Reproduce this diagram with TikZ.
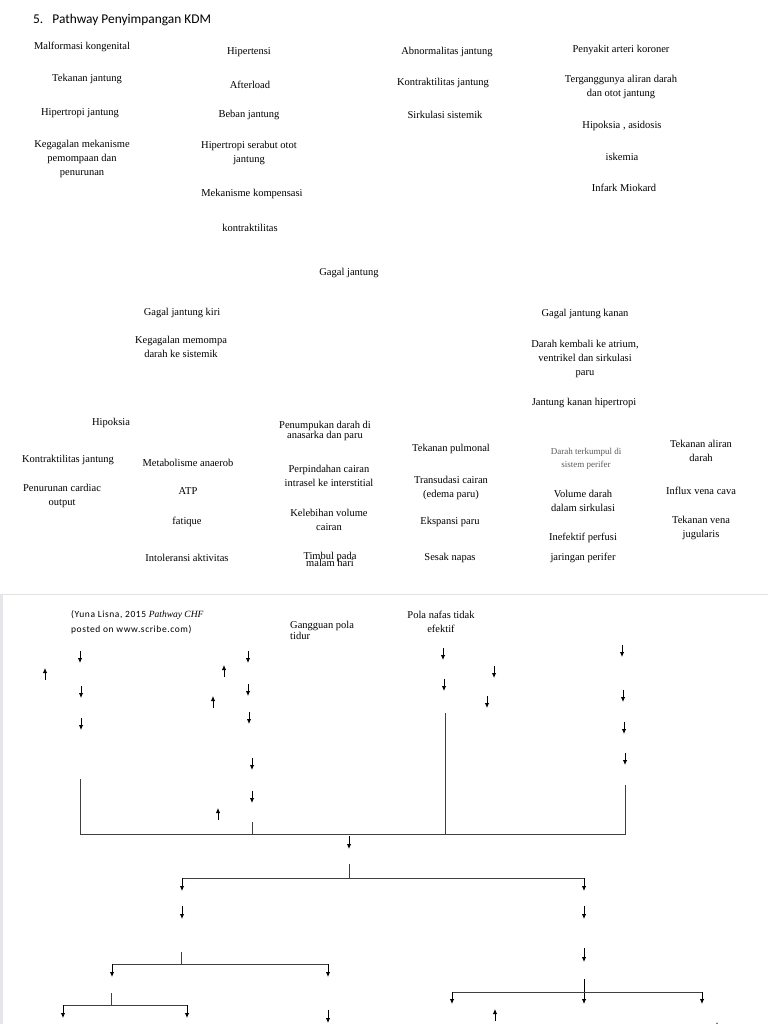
\documentclass[tikz,border=0pt]{standalone}
\usepackage{fontspec}
\setmainfont{Liberation Serif}
\newfontfamily\titlefont{Carlito}
\newfontfamily\notefont[LetterSpace=6]{Carlito}
\usetikzlibrary{arrows.meta}

\tikzset{
  lbl/.style={inner sep=0pt, align=center, font=\fontsize{10.5}{14}\selectfont},
  arr/.style={-{Latex[length=5pt,width=4.5pt]}, line width=0.9pt, black},
  tree/.style={draw=black!75, line width=1pt},
}

\begin{document}
\begin{tikzpicture}[x=1pt,y=-1pt]
  \useasboundingbox (0,0) rectangle (768,1024);
  % Page edges
  \draw[gray!22, line width=1pt] (0,594.5) -- (768,594.5);
  \fill[blue!10!gray!18] (0,595) rectangle (2.5,1024);

  % Title
  \node[anchor=west, inner sep=0pt, font=\titlefont\fontsize{13.4}{16}\selectfont] (title) at (33,20) {5.\hspace{9pt}Pathway Penyimpangan KDM};

  % Column 1
  \node[lbl] (malf) at (82,47) {Malformasi kongenital};
  \node[lbl] (tekjan) at (87,79) {Tekanan jantung};
  \node[lbl] (hipjan) at (80,113) {Hipertropi jantung};
  \node[lbl] (gagmek) at (82,159) {Kegagalan mekanisme\\pemompaan dan\\penurunan};
  % Column 2
  \node[lbl] (hiper) at (249,52) {Hipertensi};
  \node[lbl] (after) at (250,85) {Afterload};
  \node[lbl] (beban) at (249,115) {Beban jantung};
  \node[lbl] (serabut) at (249,153) {Hipertropi serabut otot\\jantung};
  \node[lbl] (kompen) at (252,194) {Mekanisme kompensasi};
  \node[lbl] (kontr) at (250,228) {kontraktilitas};
  % Column 3
  \node[lbl] (abnorm) at (447,52) {Abnormalitas jantung};
  \node[lbl] (kontrjan) at (443,83) {Kontraktilitas jantung};
  \node[lbl] (sirsis) at (445,115) {Sirkulasi sistemik};
  % Column 4
  \node[lbl] (koroner) at (621,50) {Penyakit arteri koroner};
  \node[lbl] (aliran) at (621,87) {Terganggunya aliran darah\\dan otot jantung};
  \node[lbl] (asidosis) at (622,126) {Hipoksia , asidosis};
  \node[lbl] (iskemia) at (622,157) {iskemia};
  \node[lbl] (infark) at (624,188) {Infark Miokard};

  % Gagal jantung
  \node[lbl] (gagal) at (349,273) {Gagal jantung};
  \node[lbl] (kiri) at (182,313) {Gagal jantung kiri};
  \node[lbl] (memompa) at (181,347) {Kegagalan memompa\\darah ke sistemik};
  \node[lbl] (kanan) at (585,314) {Gagal jantung kanan};
  \node[lbl] (atrium) at (585,359) {Darah kembali ke atrium,\\ventrikel dan sirkulasi\\paru};
  \node[lbl] (kanhip) at (584,403) {Jantung kanan hipertropi};

  % Lower row
  \node[lbl] (hipoksia) at (111,423) {Hipoksia};
  \node[lbl] (kontr2) at (68,460) {Kontraktilitas jantung};
  \node[lbl] (cardiac) at (62,496) {Penurunan cardiac\\output};
  \node[lbl] (anaerob) at (188,463) {Metabolisme anaerob};
  \node[lbl] (atp) at (188,491) {ATP};
  \node[lbl] (fatique) at (187,522) {fatique};
  \node[lbl] (intol) at (187,558) {Intoleransi aktivitas};
  \node[lbl, font=\fontsize{10.5}{9}\selectfont] (penumpukan) at (325,431) {Penumpukan darah di\\anasarka dan paru};
  \node[lbl] (pindah) at (329,476) {Perpindahan cairan\\intrasel ke interstitial};
  \node[lbl] (lebih) at (329,520) {Kelebihan volume\\cairan};
  % overprinted in the source
  \node[lbl] (timbul) at (330,557) {Timbul pada};
  \node[lbl] (malam) at (330,563) {malam hari};
  \node[lbl] (pulmo) at (451,449) {Tekanan pulmonal};
  \node[lbl] (transu) at (451,488) {Transudasi cairan\\(edema paru)};
  \node[lbl] (ekspansi) at (450,522) {Ekspansi paru};
  \node[lbl] (sesak) at (450,558) {Sesak napas};
  \node[lbl, text=black!65, font=\fontsize{9}{13}\selectfont] (terkumpul) at (586,459) {Darah terkumpul di\\sistem perifer};
  \node[lbl] (volume) at (583,501) {Volume darah\\dalam sirkulasi};
  \node[lbl, font=\fontsize{10.5}{19.5}\selectfont] (inefektif) at (583,548) {Inefektif perfusi\\jaringan perifer};
  \node[lbl] (tekalir) at (701,451) {Tekanan aliran\\darah};
  \node[lbl] (influx) at (701,491) {Influx vena cava};
  \node[lbl] (jugular) at (701,528) {Tekanan vena\\jugularis};

  % Second sheet
  \node[anchor=north west, inner sep=0pt, align=left, font=\notefont\fontsize{9.5}{15.5}\selectfont] (sumber) at (71,610) {(Yuna Lisna, 2015 {\rmfamily\itshape Pathway CHF}\\posted on www.scribe.com)};
  \node[anchor=north west, inner sep=0pt, align=left, font=\fontsize{10.5}{11}\selectfont] (tidur) at (290,621) {Gangguan pola\\tidur};
  \node[lbl] (polanafas) at (441,622) {Pola nafas tidak\\efektif};

  % Loose arrows
  \foreach \x/\y in {80/651, 81/686, 81/718, 248/651, 248/684, 249/712, 252/758, 252/791,
                     443/648, 444/679, 494/666, 487/696, 622/645, 623/690, 624/722, 625/753} {
    \draw[arr] (\x,\y) -- ++(0,12);
  }
  \foreach \x/\y in {45/680, 224/677, 213/708, 218/820, 495/1021, 717/1034} {
    \draw[arr] (\x,\y) -- ++(0,-12);
  }

  % Tree coordinates
  \coordinate (A) at (80,779);
  \coordinate (A1) at (80,834);
  \coordinate (B) at (252,822);
  \coordinate (B1) at (252,834);
  \coordinate (C) at (445,713);
  \coordinate (C1) at (445,834);
  \coordinate (D) at (625,785);
  \coordinate (D1) at (625,834);
  \coordinate (E) at (349,836);
  \coordinate (E1) at (349,849);
  \coordinate (F) at (349,864);
  \coordinate (F1) at (349,878);
  \coordinate (G) at (182,878);
  \coordinate (H) at (584,878);
  \coordinate (G1) at (182,891);
  \coordinate (H1) at (584,891);
  % Tree lines
  \draw[tree] (A) -- (A1) -- (D1) -- (D);
  \draw[tree] (B) -- (B1);
  \draw[tree] (C) -- (C1);
  \draw[arr] (E) -- (E1);
  \draw[tree] (F) -- (F1);
  \draw[tree] (G) -- (H);
  \draw[arr] (G) -- (G1);
  \draw[arr] (H) -- (H1);
  % Left branch
  \coordinate (K) at (182,906);
  \coordinate (K1) at (182,919);
  \coordinate (L) at (181,952);
  \coordinate (L1) at (181,964);
  \coordinate (M) at (112,964);
  \coordinate (N) at (328,964);
  \coordinate (M1) at (112,977);
  \coordinate (N1) at (328,977);
  \coordinate (P) at (111,993);
  \coordinate (P1) at (111,1005);
  \coordinate (Q) at (63,1005);
  \coordinate (R) at (187,1005);
  \coordinate (Q1) at (63,1018);
  \coordinate (R1) at (187,1018);
  \coordinate (S) at (328,1010);
  \coordinate (S1) at (328,1023);
  \draw[arr] (K) -- (K1);
  \draw[tree] (L) -- (L1);
  \draw[tree] (M) -- (N);
  \draw[arr] (M) -- (M1);
  \draw[arr] (N) -- (N1);
  \draw[tree] (P) -- (P1);
  \draw[tree] (Q) -- (R);
  \draw[arr] (Q) -- (Q1);
  \draw[arr] (R) -- (R1);
  \draw[arr] (S) -- (S1);
  % Right branch
  \coordinate (T) at (584,906);
  \coordinate (T1) at (584,919);
  \coordinate (U) at (584,948);
  \coordinate (U1) at (584,962);
  \coordinate (V) at (584,979);
  \coordinate (V1) at (584,1004);
  \coordinate (W) at (452,992);
  \coordinate (X) at (702,992);
  \coordinate (W1) at (452,1004);
  \coordinate (X1) at (702,1004);
  \draw[arr] (T) -- (T1);
  \draw[arr] (U) -- (U1);
  \draw[arr] (V) -- (V1);
  \draw[tree] (W) -- (X);
  \draw[arr] (W) -- (W1);
  \draw[arr] (X) -- (X1);
\end{tikzpicture}
\end{document}
